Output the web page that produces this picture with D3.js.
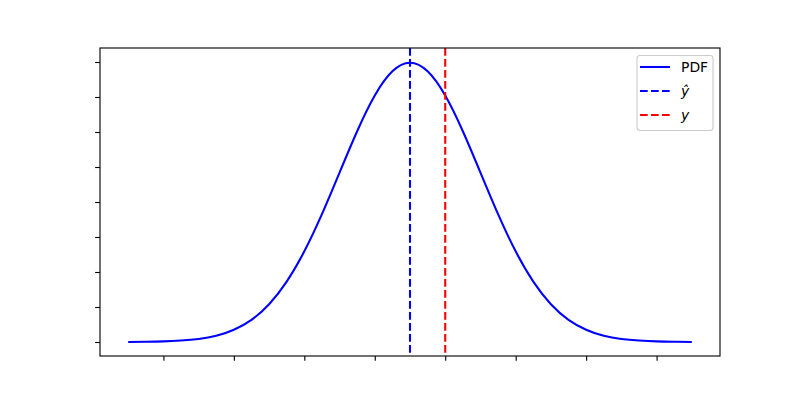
<!DOCTYPE html>
<html>
<head>
<meta charset="utf-8">
<script src="https://cdn.jsdelivr.net/npm/d3@7"></script>
<style>
  body { margin: 0; background: white; }
  text { font-family: "DejaVu Sans", sans-serif; }
</style>
</head>
<body>
<div id="chart"></div>
<script>
// ----- data -----------------------------
const xs = [-4.5, -4.25, -4, -3.75, -3.5, -3.25, -3, -2.75, -2.5, -2.25, -2, -1.75, -1.5, -1.25, -1, -0.75,
            -0.5, -0.25, 0, 0.25, 0.5, 0.75, 1, 1.25, 1.5, 1.75, 2, 2.25, 2.5, 2.75, 3, 3.25, 3.5];
const pdf = [0.0001, 0.0004, 0.0009, 0.0022, 0.0044, 0.0088, 0.0175, 0.0317, 0.0540, 0.0863, 0.1295, 0.1826,
             0.2420, 0.3011, 0.3521, 0.3867, 0.3989, 0.3867, 0.3521, 0.3011, 0.2420, 0.1826, 0.1295, 0.0863,
             0.0540, 0.0317, 0.0175, 0.0088, 0.0044, 0.0022, 0.0009, 0.0004, 0.0001];
const yHat = -0.5;
const yTrue = 0;
const xTicks = [-4, -3, -2, -1, 0, 1, 2, 3];
const yTicks = [0, 0.05, 0.1, 0.15, 0.2, 0.25, 0.3, 0.35, 0.4];
const legendLabels = ["PDF", "ŷ", "y"];

const W = 800, H = 400;
const mLeft = 100, mRight = 720, mTop = 48, mBottom = 356;

const svg = d3.select("#chart").append("svg").attr("width", W).attr("height", H);

// matplotlib-like 5% margins
const xPad = (3.5 - (-4.5)) * 0.05;
const yPad = 0.4 * 0.05;
const x = d3.scaleLinear().domain([-4.5 - xPad, 3.5 + xPad]).range([mLeft, mRight]);
const y = d3.scaleLinear().domain([0 - yPad, 0.4 + yPad]).range([mBottom, mTop]);

// ----- ticks (no labels) -------
const tickLen = 4.86;
const xAxis = svg.append("g")
  .attr("transform", `translate(0,${mBottom})`)
  .call(d3.axisBottom(x).tickValues(xTicks).tickFormat("").tickSize(tickLen).tickSizeOuter(0));
const yAxis = svg.append("g")
  .attr("transform", `translate(${mLeft},0)`)
  .call(d3.axisLeft(y).tickValues(yTicks).tickFormat("").tickSize(tickLen).tickSizeOuter(0));
[xAxis, yAxis].forEach(g => {
  g.select(".domain").remove();
  g.selectAll(".tick line").attr("stroke", "black").attr("stroke-width", 1.11);
});

// ----- PDF curve -------
const pts = xs.map((v, i) => [v, pdf[i]]);
const line = d3.line()
  .x(d => x(d[0]))
  .y(d => y(d[1]))
  .curve(d3.curveNatural);

svg.append("path")
  .datum(pts)
  .attr("d", line)
  .attr("fill", "none")
  .attr("stroke", "blue")
  .attr("stroke-width", 2.08);

// ----- vertical lines -------
svg.append("line")
  .attr("x1", x(yHat)).attr("x2", x(yHat))
  .attr("y1", mTop).attr("y2", mBottom)
  .attr("stroke", "blue").attr("stroke-width", 2.08)
  .attr("stroke-dasharray", "7.7,3.3");

svg.append("line")
  .attr("x1", x(yTrue)).attr("x2", x(yTrue))
  .attr("y1", mTop).attr("y2", mBottom)
  .attr("stroke", "red").attr("stroke-width", 2.08)
  .attr("stroke-dasharray", "7.7,3.3");

// ----- spines -------
svg.append("rect")
  .attr("x", mLeft).attr("y", mTop)
  .attr("width", mRight - mLeft).attr("height", mBottom - mTop)
  .attr("fill", "none").attr("stroke", "black").attr("stroke-width", 1.11);

// ----- legend -------
const leg = svg.append("g");
leg.append("rect")
  .attr("x", 637).attr("y", 55.5)
  .attr("width", 76).attr("height", 75)
  .attr("rx", 3)
  .attr("fill", "white").attr("fill-opacity", 0.8)
  .attr("stroke", "#cccccc").attr("stroke-width", 1.11);

const legendStyle = [
  { color: "blue", dash: null },
  { color: "blue", dash: "7.7,3.3" },
  { color: "red", dash: "7.7,3.3" }
];
legendLabels.forEach((lab, i) => {
  const cy = 67 + i * 24;
  leg.append("line")
    .attr("x1", 640).attr("x2", 670)
    .attr("y1", cy).attr("y2", cy)
    .attr("stroke", legendStyle[i].color).attr("stroke-width", 2.08)
    .attr("stroke-dasharray", legendStyle[i].dash);
  leg.append("text")
    .attr("x", 681).attr("y", cy + 5)
    .style("font-size", "13.9px")
    .style("font-style", i === 0 ? "normal" : "italic")
    .attr("fill", "black")
    .text(lab);
});
</script>
</body>
</html>
